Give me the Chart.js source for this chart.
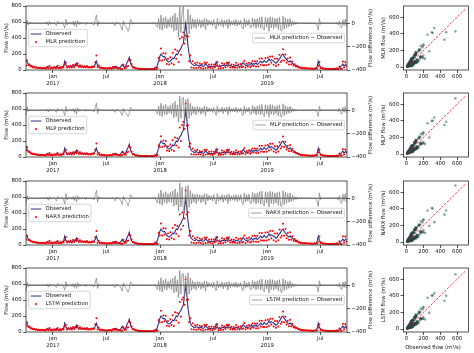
<!DOCTYPE html>
<html><head><meta charset="utf-8">
<script src="https://cdn.jsdelivr.net/npm/chart.js@4/dist/chart.umd.min.js"></script>
<style>
html,body{margin:0;padding:0;background:#fff;width:474px;height:353px;overflow:hidden;position:relative}
canvas{position:absolute}
</style></head><body>
<script>
// ---------------- DATA ----------------
const models = ['MLR','MLP','NARX','LSTM'];
const dayStep = 4;           // one value every 4 days, day 0 = 1 Oct 2016
const lastDay = 1094;        // 30 Sep 2019
const observed = [130,95,75,60,50,42,38,35,32,30,
28,26,25,24,23,22,22,25,30,40,
38,30,26,25,28,35,45,35,30,28,
27,32,45,110,60,45,40,38,42,40,
48,55,50,85,55,48,50,45,42,40,
38,45,40,36,35,34,38,45,55,70,
110,60,40,32,28,25,23,22,20,18,
20,25,22,20,28,40,45,30,25,22,
30,45,70,45,40,50,90,120,160,90,
55,40,30,25,20,18,16,15,14,13,
12,12,11,11,10,10,10,10,12,14,
20,30,60,110,170,200,180,165,170,150,
120,105,100,110,125,150,140,170,200,190,
220,250,270,310,330,450,580,470,300,200,
110,80,70,60,55,70,60,55,50,65,
50,45,55,80,60,48,45,42,50,45,
40,55,100,60,45,40,42,55,60,50,
55,60,95,60,55,50,45,42,48,60,
55,50,45,50,70,95,75,60,55,65,
60,70,90,65,80,75,90,70,80,95,
110,90,100,120,100,95,110,140,115,130,
120,110,100,85,95,120,140,160,190,200,
170,150,130,110,100,115,95,85,70,60,
55,45,38,32,28,25,23,22,20,20,
19,18,18,17,17,16,18,25,40,110,
60,35,25,20,18,16,15,14,13,13,
12,12,12,13,14,16,20,25,40,55,
75,50,65,80];
// prediction − observed, per model
const diffMLR = [-70,25,-15,10,-5,8,-6,4,-3,5,
-4,3,-2,4,-3,2,5,-8,12,-20,
15,-10,6,-4,8,-12,-20,18,-8,6,
-5,10,-15,-40,35,-15,8,-6,12,-10,
15,-20,18,-30,25,-12,10,-8,6,-5,
8,-12,10,-6,4,-3,6,-10,-15,30,
70,-25,15,-8,5,-3,2,-2,3,-2,
4,-6,5,-3,8,-15,-20,12,-5,3,
-10,-35,-60,20,-15,-25,-45,-70,-40,35,
20,-8,4,-3,2,-2,1,-1,1,-1,
1,0,-1,1,0,-1,1,0,2,-3,
8,-20,-35,40,-50,70,-60,45,-40,55,
-45,35,-30,50,-40,65,-70,85,-60,50,
-120,140,-80,100,140,-120,-150,-50,120,-90,
70,-50,40,-35,30,-45,35,-25,30,-40,
25,-30,40,-55,35,-20,25,-15,20,-25,
30,-20,-50,40,-25,15,-20,30,-35,25,
-20,30,-45,35,-25,20,-15,25,-20,30,
-25,20,-15,25,-35,-50,40,-30,25,-20,
30,-35,-40,45,-30,35,-45,40,-35,50,
-45,55,-40,-60,50,-35,45,-70,55,-40,
50,-45,40,-35,45,-55,50,-60,-70,60,
-50,45,-40,35,-30,40,-25,20,-15,12,
-10,8,-6,5,-4,3,-2,2,-1,1,
-1,1,0,1,-1,0,2,-5,-20,-60,
40,-10,5,-3,2,-1,1,0,1,0,
-1,1,0,2,-3,5,-15,20,-25,-40,
30,-20,35,-30];
const diffMLP = [-50,30,-10,8,-6,5,-4,3,-2,4,
-3,2,-2,3,-2,3,4,-6,10,-15,
12,-8,5,-3,6,-10,-18,15,-6,5,
-4,8,-12,-45,30,-12,6,-5,10,-8,
12,-18,15,-35,20,-10,8,-6,5,-4,
6,-10,8,-5,3,-2,5,-8,-12,25,
60,-30,12,-6,4,-2,2,-1,2,-1,
3,-5,4,-2,6,-12,-18,10,-4,2,
-8,-25,-45,15,-10,-20,-35,-55,-30,25,
15,-6,3,-2,2,-1,1,-1,0,1,
0,1,0,-1,1,0,0,1,2,-2,
6,-15,-35,35,-45,60,-55,40,-35,50,
-40,30,-25,45,-35,60,-65,75,-55,45,
-100,120,-70,90,110,-100,90,-80,100,-70,
60,-45,35,-30,25,-40,30,-20,25,-35,
20,-25,35,-50,30,-15,20,-12,18,-20,
25,-15,-45,35,-20,12,-15,25,-30,20,
-15,25,-40,30,-20,15,-12,20,-15,25,
-20,15,-12,20,-30,-45,35,-25,20,-15,
25,-30,-35,40,-25,30,-40,35,-30,45,
-40,50,-35,-55,45,-30,40,-60,50,-35,
45,-40,35,-30,40,-50,45,-55,-60,55,
-45,40,-35,30,-25,35,-20,18,-12,10,
-8,6,-5,4,-3,2,-2,1,-1,1,
0,1,-1,0,1,0,2,-4,-18,-55,
35,-8,4,-2,1,-1,1,0,0,1,
-1,0,1,2,-2,4,-12,18,-20,-35,
25,-18,30,-25];
const diffNARX = [-60,20,-12,6,-4,6,-5,3,-2,3,
-3,2,-1,3,-2,2,6,-7,10,-18,
14,-9,5,-3,7,-11,-22,16,-7,5,
-4,9,-14,-50,40,-14,7,-5,11,-9,
14,-19,16,-32,22,-11,9,-7,5,-4,
7,-11,9,-5,3,-2,5,-9,-14,28,
65,-35,14,-7,4,-2,2,-1,2,-1,
3,-5,4,-2,7,-14,-22,11,-4,3,
-9,-30,-55,18,-12,-22,-40,-65,-35,30,
18,-7,3,-2,2,-1,1,-1,1,0,
1,0,-1,0,1,0,1,0,2,-2,
10,-22,-40,40,-50,70,-60,45,-38,55,
-45,38,-32,50,-38,62,-68,80,-58,48,
-110,130,-75,95,-90,-120,100,-90,110,-80,
65,-50,40,-35,30,-45,35,-25,30,-40,
25,-30,40,-55,35,-20,25,-15,20,-25,
30,-20,-50,40,-25,15,-20,30,-35,25,
-20,30,-45,35,-25,20,-15,25,-20,30,
-30,25,-20,30,-40,-55,45,-35,30,-25,
35,-40,-45,50,-35,40,-50,45,-40,55,
-50,60,-45,-65,55,-40,50,-75,60,-45,
55,-50,45,-40,50,-60,55,-65,-75,65,
-55,50,-45,40,-35,45,-30,25,-20,15,
-12,10,-8,6,-5,4,-3,2,-2,1,
-1,1,0,1,-1,0,3,-6,-25,-70,
45,-12,6,-3,2,-1,1,0,1,0,
-1,1,0,2,-3,6,-18,22,-28,-45,
35,-22,40,-35];
const diffLSTM = [-55,25,-12,8,-5,6,-4,3,-3,4,
-3,3,-2,3,-2,2,5,-7,11,-17,
13,-9,6,-3,7,-11,-19,16,-7,5,
-5,9,-13,-42,32,-13,7,-5,11,-9,
13,-18,16,-28,22,-11,9,-7,5,-4,
7,-11,9,-5,4,-3,5,-9,-13,27,
62,-28,13,-7,4,-2,2,-2,2,-1,
3,-5,4,-3,7,-13,-18,11,-4,3,
-9,-28,-50,17,-12,-22,-38,-60,-32,28,
16,-7,3,-2,2,-1,1,-1,1,0,
1,0,-1,1,0,-1,1,0,2,-2,
7,-16,-38,38,-48,65,-58,42,-36,52,
-42,32,-28,48,-36,60,-66,78,-56,46,
-105,125,-75,95,100,-110,80,-70,105,-75,
62,-45,38,-30,28,-42,32,-22,28,-36,
22,-27,37,-52,32,-17,22,-13,18,-22,
27,-17,-47,37,-22,13,-17,27,-32,22,
-17,27,-42,32,-22,17,-13,22,-17,27,
-22,17,-13,22,-32,-47,37,-27,22,-17,
27,-32,-37,42,-27,32,-42,37,-32,47,
-42,52,-37,-57,47,-32,42,-65,52,-37,
47,-42,37,-32,42,-52,47,-57,-65,57,
-47,42,-37,32,-27,37,-22,18,-13,10,
-8,7,-5,4,-3,3,-2,1,-1,1,
0,1,-1,1,-1,0,2,-5,-20,-58,
38,-9,5,-2,2,-1,1,0,1,0,
-1,1,0,2,-2,5,-14,19,-22,-38,
28,-19,32,-27];
const diffs = [diffMLR, diffMLP, diffNARX, diffLSTM];
const tickDays = [92,273,457,638,822,1003];
const tickLabels = [['Jan','2017'],'Jul',['Jan','2018'],'Jul',['Jan','2019'],'Jul'];
const flowTicks = [0,200,400,600,800];
const diffTicks = [-400,-200,0];
const scatterTicks = [0,200,400,600];
const identityLine = [0,700];

// ---------------- STYLE / LAYOUT ----------------
const FS = 5.3;
const FONT = '"DejaVu Sans", sans-serif';
Chart.defaults.font.family = FONT;
Chart.defaults.font.size = FS;
Chart.defaults.color = '#111';
const rowTops = [0,87,175,262];
const OBS_COLOR = '#30308a';

function mk(left, top, w, h){
  const c = document.createElement('canvas');
  c.width = w; c.height = h;
  c.style.left = left+'px'; c.style.top = top+'px';
  c.style.width = w+'px'; c.style.height = h+'px';
  document.body.appendChild(c);
  return c;
}
function fmtMinus(v){ return v<0 ? '\u2212'+Math.abs(v) : String(v); }

function drawLegend(ctx, a, L){
  const fs=FS, bp=0.4*fs, hl=2*fs, htp=0.8*fs, ls=0.5*fs, rh=fs, pad=0.5*fs;
  ctx.font = fs+'px '+FONT;
  const tw = Math.max(...L.items.map(it=>ctx.measureText(it.label).width));
  const W = bp+hl+htp+tw+bp, H = 2*bp + L.items.length*rh + (L.items.length-1)*ls;
  const x0 = L.side==='left' ? a.left+pad : a.right-pad-W;
  const y0 = (a.top+a.bottom)/2 - H/2;
  ctx.beginPath(); ctx.roundRect(x0,y0,W,H,1.5);
  ctx.fillStyle='rgba(255,255,255,0.8)'; ctx.fill();
  ctx.strokeStyle='#cccccc'; ctx.lineWidth=0.8; ctx.stroke();
  L.items.forEach((it,k)=>{
    const cy = y0+bp+rh/2+k*(rh+ls);
    const hx = x0+bp;
    if(it.kind==='line'){
      ctx.beginPath(); ctx.moveTo(hx,cy); ctx.lineTo(hx+hl,cy);
      ctx.strokeStyle=it.color; ctx.lineWidth=it.w||1; ctx.stroke();
    } else {
      ctx.beginPath(); ctx.arc(hx+hl/2,cy,1,0,Math.PI*2); ctx.fillStyle=it.color; ctx.fill();
    }
    ctx.fillStyle='#111'; ctx.textAlign='left'; ctx.textBaseline='middle';
    ctx.fillText(it.label, hx+hl+htp, cy);
  });
}

const decor = {
  id:'decor',
  afterDraw(chart, args, o){
    const ctx = chart.ctx, a = chart.chartArea;
    ctx.save();
    ctx.strokeStyle = '#2a2a2a'; ctx.lineWidth = 0.8;
    ctx.strokeRect(a.left, a.top, a.right-a.left, a.bottom-a.top);
    ctx.fillStyle = '#111';
    ctx.font = FS+'px '+FONT;
    ctx.textAlign='center'; ctx.textBaseline='middle';
    (o.vtitles||[]).forEach(t=>{
      ctx.save(); ctx.translate(t.x, (a.top+a.bottom)/2 + (t.dy||0)); ctx.rotate(-Math.PI/2);
      ctx.fillText(t.text,0,0); ctx.restore();
    });
    if (o.btitle) ctx.fillText(o.btitle.text, (a.left+a.right)/2 + (o.btitle.dx||0), o.btitle.y);
    (o.legends||[]).forEach(L=>drawLegend(ctx,a,L));
    ctx.restore();
  }
};

function axisCommon(){
  return {
    grid:{drawOnChartArea:false, drawTicks:true, tickLength:3, color:'#2a2a2a', tickWidth:0.8},
    border:{display:false},
  };
}

function tsChart(r){
  const name = models[r], diff = diffs[r];
  const n = Math.min(observed.length, diff.length);
  const obsPts=[], predPts=[], diffPts=[];
  for(let i=0;i<n;i++){
    const d = i*dayStep;
    obsPts.push({x:d, y:observed[i]});
    predPts.push({x:d, y:observed[i]+diff[i]});
    diffPts.push({x:d, y:diff[i]});
  }
  const cv = mk(0, rowTops[r], 380, 88);
  new Chart(cv, {
    type:'line',
    data:{datasets:[
      {label:'zero', data:[{x:0,y:0},{x:lastDay,y:0}], yAxisID:'y2', borderColor:'#555555', borderWidth:1, pointRadius:0, order:0},
      {label:name+' prediction \u2212 Observed', data:diffPts, yAxisID:'y2', borderColor:'rgba(120,120,120,0.95)', borderWidth:0.7, pointRadius:0, order:1},
      {label:name+' prediction', data:predPts, yAxisID:'y', showLine:false, pointRadius:1.0, pointBackgroundColor:'#ff0000', pointBorderWidth:0, order:2},
      {label:'Observed', data:obsPts, yAxisID:'y', borderColor:OBS_COLOR, borderWidth:1.1, pointRadius:0, order:3},
    ]},
    options:{
      responsive:false, animation:false, devicePixelRatio:1, events:[],
      layout:{padding:{top:6,left:0,right:0,bottom:0}},
      plugins:{legend:{display:false}, tooltip:{enabled:false},
        decor:{
          vtitles:[{text:'Flow (m\u00b3/s)', x:6.5},{text:'Flow difference (m\u00b3/s)', x:370.5}],
          legends:[
            {side:'left', items:[{kind:'line',color:OBS_COLOR,label:'Observed'},{kind:'dot',color:'#ff0000',label:name+' prediction'}]},
            {side:'right', items:[{kind:'line',color:'#8c8c8c',w:0.8,label:name+' prediction \u2212 Observed'}]}
          ]
        }},
      scales:{
        x:Object.assign(axisCommon(),{type:'linear', min:0, max:lastDay,
          afterBuildTicks:s=>{s.ticks=tickDays.map(v=>({value:v}));},
          ticks:{autoSkip:false, maxRotation:0, padding:1, font:{size:FS, lineHeight:1.15},
            callback:(v)=>{const k=tickDays.indexOf(v); return k<0?'':tickLabels[k];}},
          afterFit:s=>{s.height=18;}}),
        y:Object.assign(axisCommon(),{position:'left', min:0, max:800,
          afterBuildTicks:s=>{s.ticks=flowTicks.map(v=>({value:v}));},
          ticks:{padding:1.5},
          afterFit:s=>{s.width=26;}}),
        y2:Object.assign(axisCommon(),{position:'right', min:-400, max:147,
          afterBuildTicks:s=>{s.ticks=diffTicks.map(v=>({value:v}));},
          ticks:{padding:1.5, callback:v=>fmtMinus(v)},
          afterFit:s=>{s.width=33;}})
      }
    },
    plugins:[decor]
  });
}

function scChart(r){
  const name = models[r], diff = diffs[r];
  const n = Math.min(observed.length, diff.length);
  const pts=[];
  for(let i=0;i<n;i++) pts.push({x:observed[i], y:observed[i]+diff[i]});
  const h = r===3 ? 91 : 88;
  const cv = mk(378, rowTops[r], 96, h);
  const opts = {
    vtitles:[{text:name+' flow (m\u00b3/s)', x:5.5}]
  };
  if (r===3) opts.btitle = {text:'Observed flow (m\u00b3/s)', y:85.5, dx:-3};
  new Chart(cv, {
    type:'scatter',
    data:{datasets:[
      {type:'line', data:identityLine.map(v=>({x:v,y:v})), borderColor:'#ff0000', borderDash:[2.4,1.4], borderWidth:0.8, pointRadius:0, order:0},
      {data:pts, pointRadius:1.3, pointBackgroundColor:'rgba(40,72,72,0.5)', pointBorderWidth:0, order:1}
    ]},
    options:{
      responsive:false, animation:false, devicePixelRatio:1, events:[],
      layout:{padding:{top:6,left:0,right:5.5,bottom:0}},
      plugins:{legend:{display:false}, tooltip:{enabled:false}, decor:opts},
      scales:{
        x:Object.assign(axisCommon(),{type:'linear', min:-35, max:735,
          afterBuildTicks:s=>{s.ticks=scatterTicks.map(v=>({value:v}));},
          ticks:{padding:0, maxRotation:0, autoSkip:false},
          afterFit:s=>{s.height=h-70;}}),
        y:Object.assign(axisCommon(),{type:'linear', min:-35, max:735,
          afterBuildTicks:s=>{s.ticks=scatterTicks.map(v=>({value:v}));},
          ticks:{padding:1.5},
          afterFit:s=>{s.width=25.5;}})
      }
    },
    plugins:[decor]
  });
}

for(let r=0;r<4;r++){ tsChart(r); scChart(r); }
</script>
</body></html>
